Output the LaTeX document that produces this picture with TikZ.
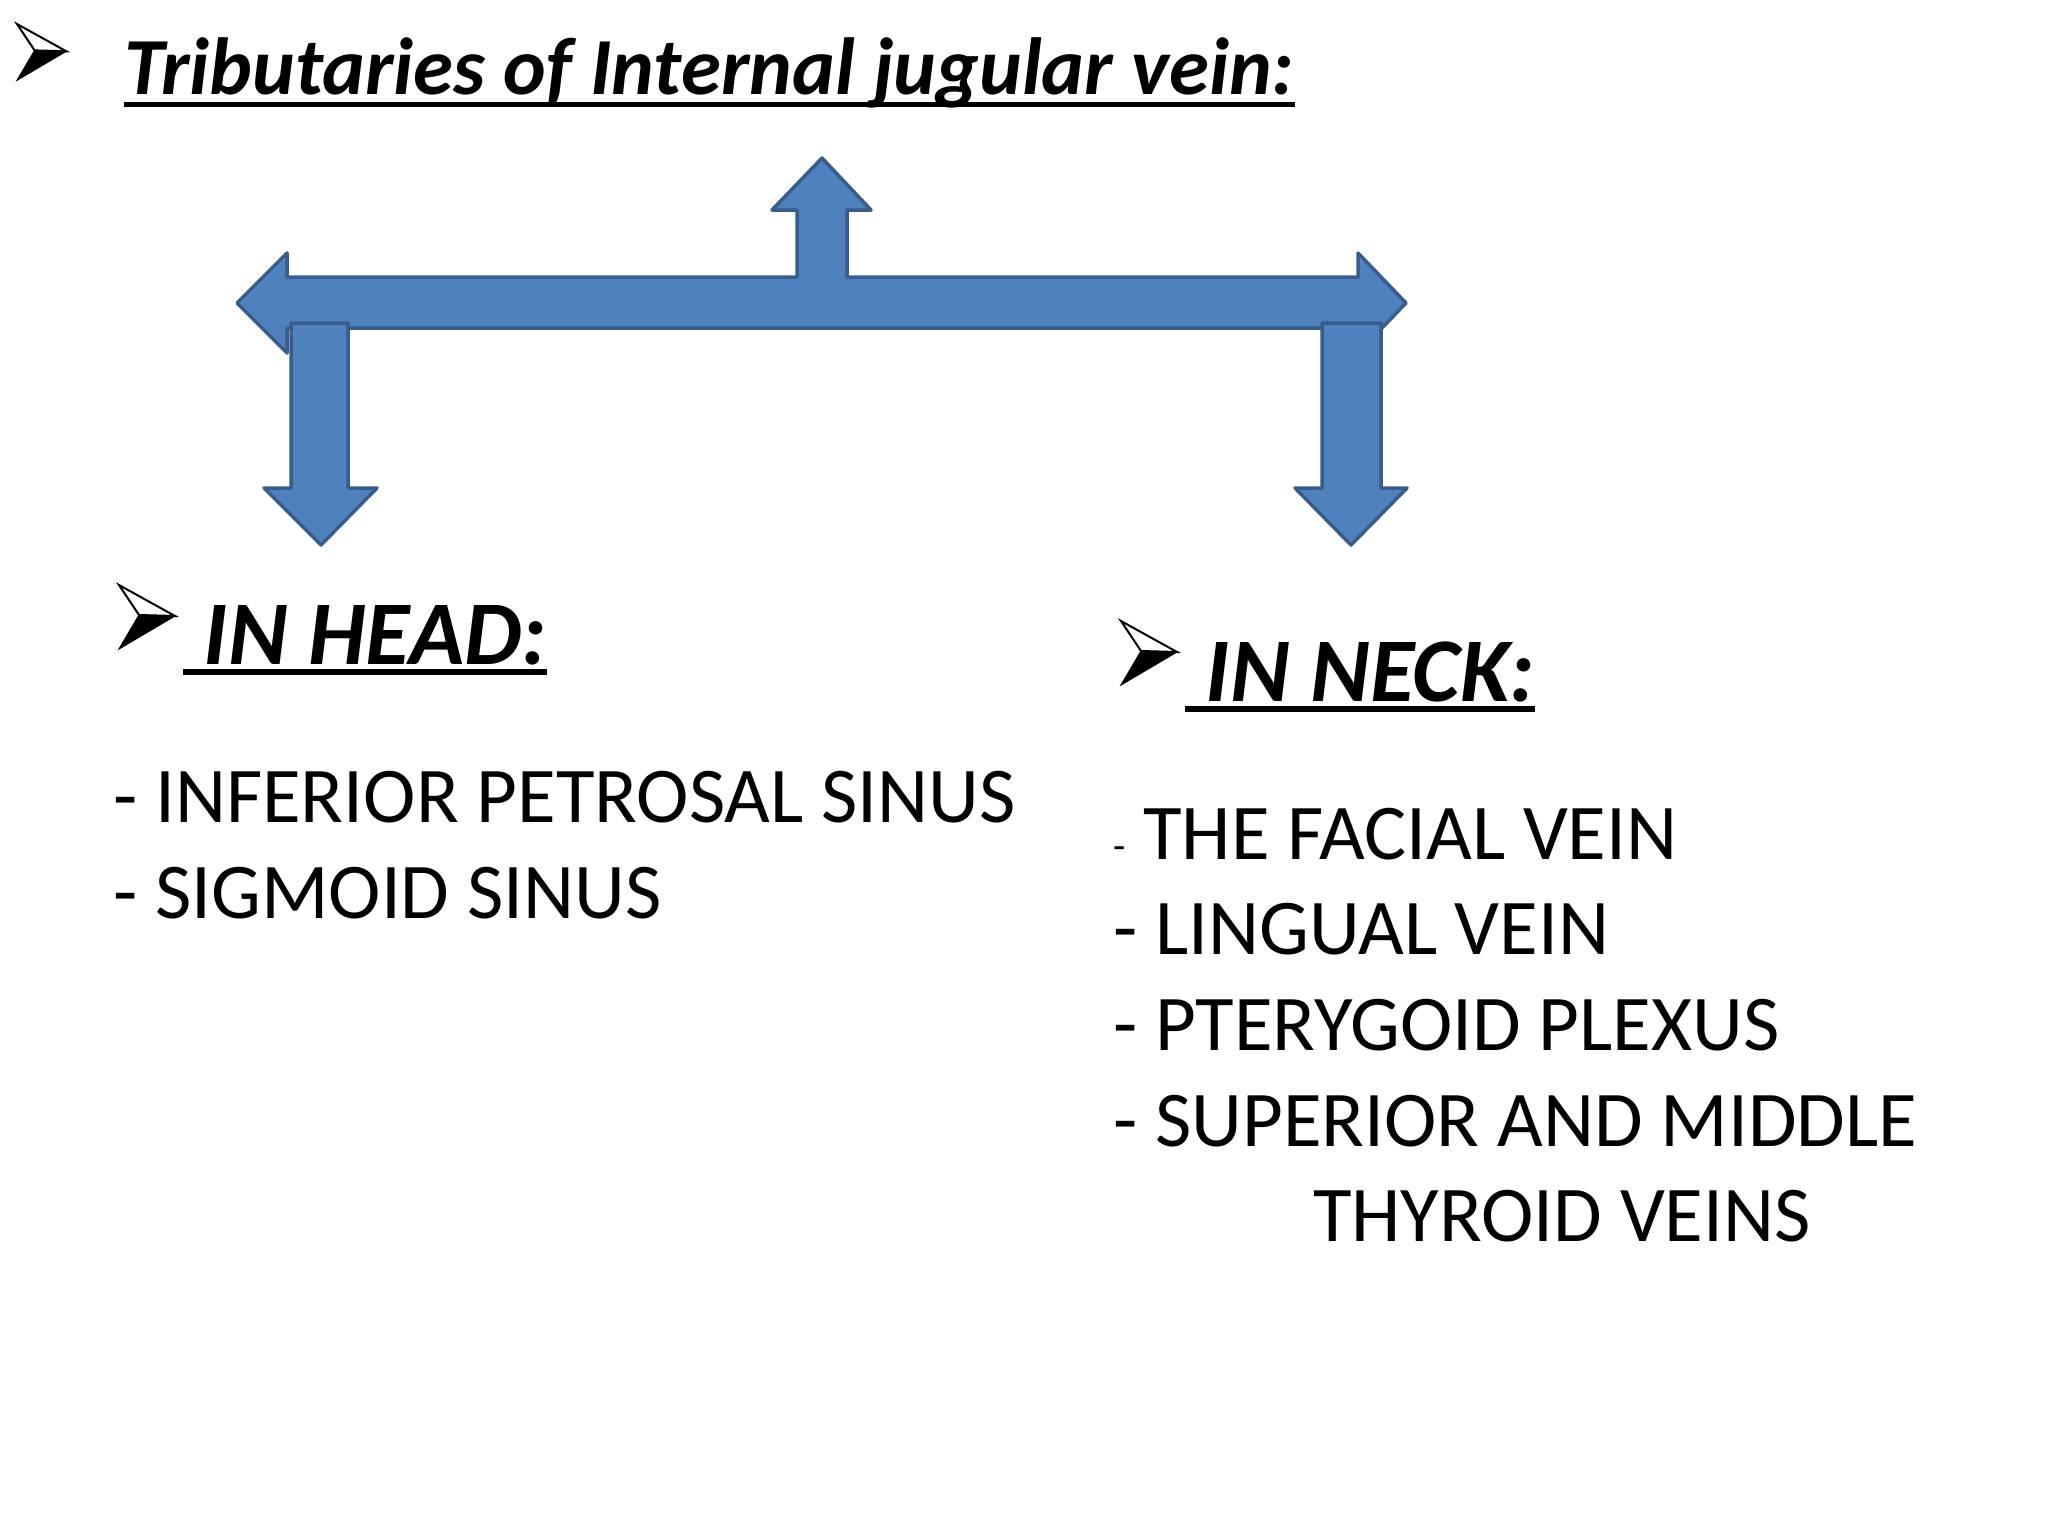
\documentclass[tikz,border=0pt]{standalone}
\usepackage{fontspec}
\setmainfont{Carlito}
\definecolor{arrowfill}{HTML}{4F81BD}
\definecolor{arrowline}{HTML}{385D8A}
\tikzset{
  bigarrow/.style={fill=arrowfill, draw=arrowline, line width=3.5pt, line join=round},
  titletext/.style={anchor=base west, inner sep=0pt, font=\fontsize{81}{96}\selectfont\bfseries\itshape},
  headtext/.style={anchor=base west, inner sep=0pt, font=\fontsize{91}{110}\selectfont\bfseries\itshape},
  itemtext/.style={anchor=base west, inner sep=0pt, font=\fontsize{79}{96}\selectfont},
  uline/.style={line width=5pt},
  bulletout/.style={draw=black, fill=white, line width=2pt, line join=miter},
  bulletin/.style={fill=black, draw=black, line width=1pt}
}
\newcommand{\wingbullet}[3]{%
  \begin{scope}[shift={(#1,#2)}, scale=#3]
    \path[bulletout] (0,0) -- (56,31) -- (20,30) -- cycle;
    \path[bulletin] (20,30) -- (56,31) -- (0,64) -- cycle;
  \end{scope}}
\begin{document}
\begin{tikzpicture}[x=1pt, y=-1pt]
\useasboundingbox[fill=white] (0,0) rectangle (2048,1536);

% title
\wingbullet{17}{24}{0.88}
\node[titletext] (title) at (124,94.3) {Tributaries of Internal jugular vein:};
\draw[uline] ([yshift=-10pt]title.base west) -- ([yshift=-10pt]title.base east);

% arrows
\path[bigarrow] (237,303) -- (287,253) -- (287,277) -- (797,277) -- (797,210) -- (772,210)
  -- (822,158) -- (871,210) -- (847,210) -- (847,277) -- (1358,277) -- (1358,253)
  -- (1406,303) -- (1358,353) -- (1358,328) -- (287,328) -- (287,353) -- cycle;
\path[bigarrow] (291,323) -- (348,323) -- (348,488) -- (377,488) -- (321,545) -- (264,488) -- (291,488) -- cycle;
\path[bigarrow] (1322,323) -- (1381,323) -- (1381,488) -- (1407,488) -- (1351,545) -- (1295,488) -- (1322,488) -- cycle;

% in head
\wingbullet{119}{585}{1}
\node[headtext] (head) at (183,664) {\ IN HEAD:};
\draw[uline, line width=6pt] ([yshift=-8pt]head.base west) -- ([yshift=-8pt]head.base east);
\node[itemtext] (h1) at (113,822.7) {- INFERIOR PETROSAL SINUS};
\node[itemtext] (h2) at (113,918) {- SIGMOID SINUS};

% in neck
\wingbullet{1121}{621}{1}
\node[headtext] (neck) at (1185,701) {\ IN NECK:};
\draw[uline, line width=6pt] ([yshift=-8pt]neck.base west) -- ([yshift=-8pt]neck.base east);
\node[itemtext] (n1) at (1113,859) {{\fontsize{40}{40}\selectfont -} THE FACIAL VEIN};
\node[itemtext] (n2) at (1113,954) {- LINGUAL VEIN};
\node[itemtext] (n3) at (1113,1050.7) {- PTERYGOID PLEXUS};
\node[itemtext] (n4) at (1113,1146) {- SUPERIOR AND MIDDLE};
\node[itemtext] (n5) at (1313,1241) {THYROID VEINS};
\end{tikzpicture}
\end{document}
